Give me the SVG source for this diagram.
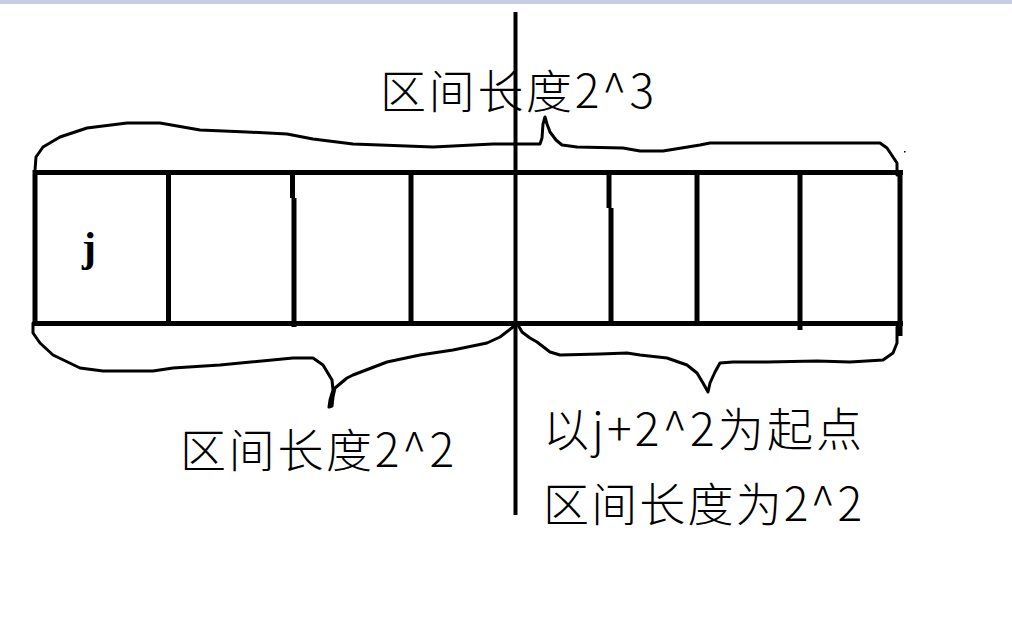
<svg xmlns="http://www.w3.org/2000/svg" width="1012" height="617" viewBox="0 0 1012 617">
<style>
.grid{stroke:#000;stroke-width:5;fill:none;stroke-linecap:butt}
.brace{stroke:#000;stroke-width:3;fill:none;stroke-linejoin:round;stroke-linecap:round}
.cjk{font-family:"Noto Sans CJK SC","Noto Sans",sans-serif;font-size:46px;font-weight:300;fill:#000}
</style>
<rect x="0" y="0" width="1012" height="617" fill="#fff"/>
<rect x="0" y="0" width="1012" height="4" fill="#c6cfe1"/>
<g id="cells">
<path class="grid" d="M33 172.5H903M33 323.5H903"/>
<path class="grid" d="M35 170V326M168.5 172V323M292.5 172V198M294 198V327M411 172V325M609 172V208M611 208V323M697 172V323M800 172V330M900 170V336"/>
</g>
<g id="label-j">
<text x="82" y="261" font-family="Liberation Serif,serif" font-weight="bold" font-size="42">j</text>
</g>
<g id="connectors">
<path d="M515.5 12V515" stroke="#000" stroke-width="4" fill="none"/>
<path class="brace" d="M35 170L36 157L43 147L60 137L87 128L127 123L160 123L200 130L247 132L287 134L313 139L353 144L380 145L433 147L493 144L520 144L540 144L542 138L543 124L545 117L547 124L550 132L556 140L562 145L577 147L623 148L640 151L663 151L700 145L710 143L880 143L887 148L897 163L897 175"/>
<path class="brace" d="M33 323L33 333L40 343L53 355L80 368L103 371L153 371L173 368L220 365L293 358L313 358L323 365L332 380L333 390L330 400L329 407L332 406L333 397L335 388L347 378L353 375L387 362L420 355L453 350L487 343L500 337L513 327L517 324"/>
<path class="brace" d="M518 325L522 332L530 338L537 342L550 352L560 355L600 354L627 353L640 355L667 358L687 365L697 373L703 383L708 392L710 383L715 372L720 363L733 362L767 362L817 361L850 362L883 360L893 353L897 343L897 327"/>
<rect x="904" y="151" width="1.5" height="1.5" fill="#000"/>
</g>
<g id="label-top">
<text class="cjk" x="380" y="108" textLength="274" lengthAdjust="spacing">区间长度2^3</text>
</g>
<g id="label-left">
<text class="cjk" x="180" y="467" textLength="274" lengthAdjust="spacing">区间长度2^2</text>
</g>
<g id="label-right">
<text class="cjk" x="543" y="446" textLength="319" lengthAdjust="spacing">以j+2^2为起点</text>
<text class="cjk" x="543" y="521" textLength="319" lengthAdjust="spacing">区间长度为2^2</text>
</g>
</svg>
